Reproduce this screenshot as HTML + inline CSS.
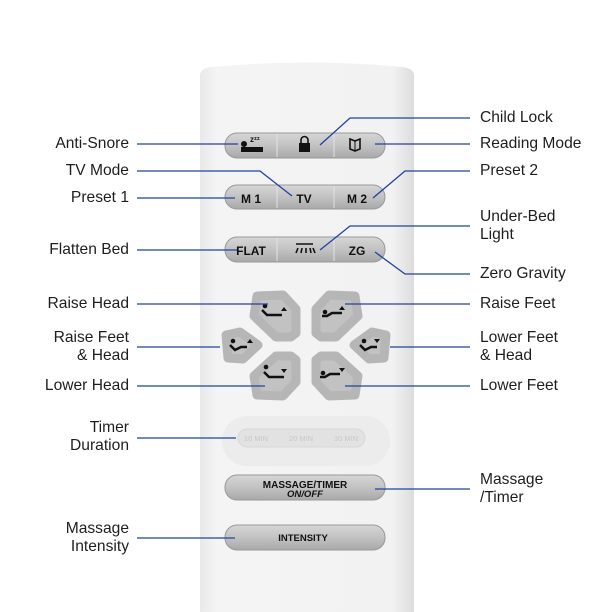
<!DOCTYPE html>
<html><head><meta charset="utf-8"><style>
body{margin:0;width:612px;height:612px;background:#fff;overflow:hidden;font-family:"Liberation Sans",sans-serif;}
.l{position:absolute;font-size:15.6px;color:#1e1e1e;line-height:18px;}
.r{text-align:right;right:483px;}
.q{left:480px;}
</style></head><body>
<svg width="612" height="612" style="position:absolute;left:0;top:0">
<defs>
<linearGradient id="rg" x1="0" x2="1"><stop offset="0" stop-color="#e9e9e9"/><stop offset="0.08" stop-color="#f4f4f4"/><stop offset="0.9" stop-color="#f2f2f2"/><stop offset="1" stop-color="#dcdcdc"/></linearGradient>
<linearGradient id="bg" x1="0" y1="0" x2="0" y2="1"><stop offset="0" stop-color="#d6d6d6"/><stop offset="0.5" stop-color="#c2c2c2"/><stop offset="1" stop-color="#a9a9a9"/></linearGradient>
</defs>
<path d="M200 76 Q200 68 212 67 Q307 58 402 67 Q414 68 414 76 L414 612 L200 612 Z" fill="url(#rg)"/>
<g stroke="#999" stroke-width="1">
<rect x="225" y="133" width="160" height="25" rx="12" fill="url(#bg)"/>
<rect x="225" y="185" width="160" height="24" rx="12" fill="url(#bg)"/>
<rect x="225" y="237" width="160" height="25" rx="12" fill="url(#bg)"/>
</g>
<g stroke="#e2e2e2" stroke-width="1">
<line x1="277" y1="134" x2="277" y2="157"/><line x1="334" y1="134" x2="334" y2="157"/>
<line x1="277" y1="186" x2="277" y2="208"/><line x1="334" y1="186" x2="334" y2="208"/>
<line x1="277" y1="238" x2="277" y2="261"/><line x1="334" y1="238" x2="334" y2="261"/>
</g>
<g fill="#c2c2c2" stroke="#b6b6b6" stroke-linejoin="round" stroke-width="9">
<path d="M257 296 L283 295 L296 309 L296 333 L291 337 L276 337 L254 316 Z"/>
<path d="M355 296 L329 295 L316 309 L316 333 L321 337 L336 337 L358 316 Z"/>
<path d="M226 335 L240 332 L258 345 L243 359 L228 358 Z"/>
<path d="M386 335 L372 332 L354 345 L369 359 L384 358 Z"/>
<path d="M257 395 L283 396 L296 382 L296 360 L291 356 L276 356 L254 376 Z"/>
<path d="M355 395 L329 396 L316 382 L316 360 L321 356 L336 356 L358 376 Z"/>
</g>
<rect x="222" y="416" width="168" height="50" rx="25" fill="#ececec"/>
<rect x="238" y="429" width="127" height="18" rx="9" fill="#e2e2e2" stroke="#d8d8d8"/>
<rect x="225" y="475" width="160" height="25" rx="12" fill="url(#bg)" stroke="#999"/>
<rect x="225" y="525" width="160" height="25" rx="12" fill="url(#bg)" stroke="#999"/>
<g fill="#111" font-family="Liberation Sans" font-weight="bold" text-anchor="middle">
<text x="251" y="203" font-size="12">M 1</text><text x="304" y="203" font-size="12">TV</text><text x="357" y="203" font-size="12">M 2</text>
<text x="251" y="255" font-size="12">FLAT</text><text x="357" y="255" font-size="12">ZG</text>
<text x="305" y="488" font-size="10">MASSAGE/TIMER</text><text x="305" y="497" font-size="9.5" font-style="italic">ON/OFF</text>
<text x="303" y="541" font-size="9.5">INTENSITY</text>
</g>
<g fill="#c8c8c8" font-family="Liberation Sans" font-size="7.5" text-anchor="middle"><text x="256" y="441">10 MIN</text><text x="301" y="441">20 MIN</text><text x="346" y="441">30 MIN</text></g>
<g fill="#111">
<rect x="241" y="147" width="22" height="5"/><circle cx="244" cy="144" r="3"/><text x="250" y="142" font-size="8" font-family="Liberation Sans" font-weight="bold">zᶻᶻ</text>
<rect x="299" y="143" width="11" height="9"/><path d="M301 143 v-3 a3.5 3.5 0 0 1 7 0 v3" fill="none" stroke="#111" stroke-width="1.6"/>
<path d="M350 139 l5 2 l5 -2 v10 l-5 2 l-5 -2 Z" fill="none" stroke="#111" stroke-width="1.6"/><line x1="355" y1="141" x2="355" y2="151" stroke="#111"/>
<path d="M296 244 h17 M298 248 l-2 5 M302 248 l-1 5 M306 248 v5 M310 248 l1 5 M313 248 l2 5" stroke="#111" stroke-width="1.6" fill="none"/>
</g>
<g stroke="#111" stroke-width="2.5" fill="none">
<path d="M262 310 l5 5 h15"/><path d="M322 316 h5 l5 -3 h10"/><path d="M230 345 l5 5 l6 -3 h6"/><path d="M360 345 l5 5 l6 -3 h6"/><path d="M264 372 l5 5 h15"/><path d="M320 377 h5 l5 -3 h10"/>
</g>
<g fill="#111"><circle cx="265" cy="306" r="2.3"/><circle cx="325" cy="312" r="2.3"/><circle cx="233" cy="341" r="2.3"/><circle cx="364" cy="341" r="2.3"/><circle cx="266" cy="367" r="2.3"/><circle cx="323" cy="373" r="2.3"/>
<path d="M281 311 l3 -4 l3 4Z"/><path d="M339 310 l3 -4 l3 4Z"/><path d="M247 343 l3 -4 l3 4Z"/><path d="M374 339 l3 4 l3 -4Z"/><path d="M281 369 l3 4 l3 -4Z"/><path d="M339 368 l3 4 l3 -4Z"/></g>
<g stroke="#22429e" stroke-width="1.3" fill="none">
<path d="M137 144 H238"/><path d="M137 171 H260 L292 196"/><path d="M137 198 H235"/><path d="M137 250 H237"/>
<path d="M137 304 H268"/><path d="M137 347 H220"/><path d="M137 386 H265"/><path d="M137 438 H236"/><path d="M137 538 H235"/>
<path d="M470 118 H350 L320 145"/><path d="M470 144 H375"/><path d="M470 171 H405 L373 198"/><path d="M470 226 H350 L320 250"/><path d="M470 274 H405 L375 252"/>
<path d="M470 304 H345"/><path d="M470 347 H390"/><path d="M470 386 H345"/><path d="M470 489 H375"/>
</g>
</svg>
<div class="l r" style="top:135px">Anti-Snore</div>
<div class="l r" style="top:162px">TV Mode</div>
<div class="l r" style="top:189px">Preset 1</div>
<div class="l r" style="top:241px">Flatten Bed</div>
<div class="l r" style="top:295px">Raise Head</div>
<div class="l r" style="top:329px">Raise Feet<br>&amp; Head</div>
<div class="l r" style="top:377px">Lower Head</div>
<div class="l r" style="top:419px">Timer<br>Duration</div>
<div class="l r" style="top:520px">Massage<br>Intensity</div>
<div class="l q" style="top:109px">Child Lock</div>
<div class="l q" style="top:135px">Reading Mode</div>
<div class="l q" style="top:162px">Preset 2</div>
<div class="l q" style="top:208px">Under-Bed<br>Light</div>
<div class="l q" style="top:265px">Zero Gravity</div>
<div class="l q" style="top:295px">Raise Feet</div>
<div class="l q" style="top:329px">Lower Feet<br>&amp; Head</div>
<div class="l q" style="top:377px">Lower Feet</div>
<div class="l q" style="top:471px">Massage<br>/Timer</div>
</body></html>
